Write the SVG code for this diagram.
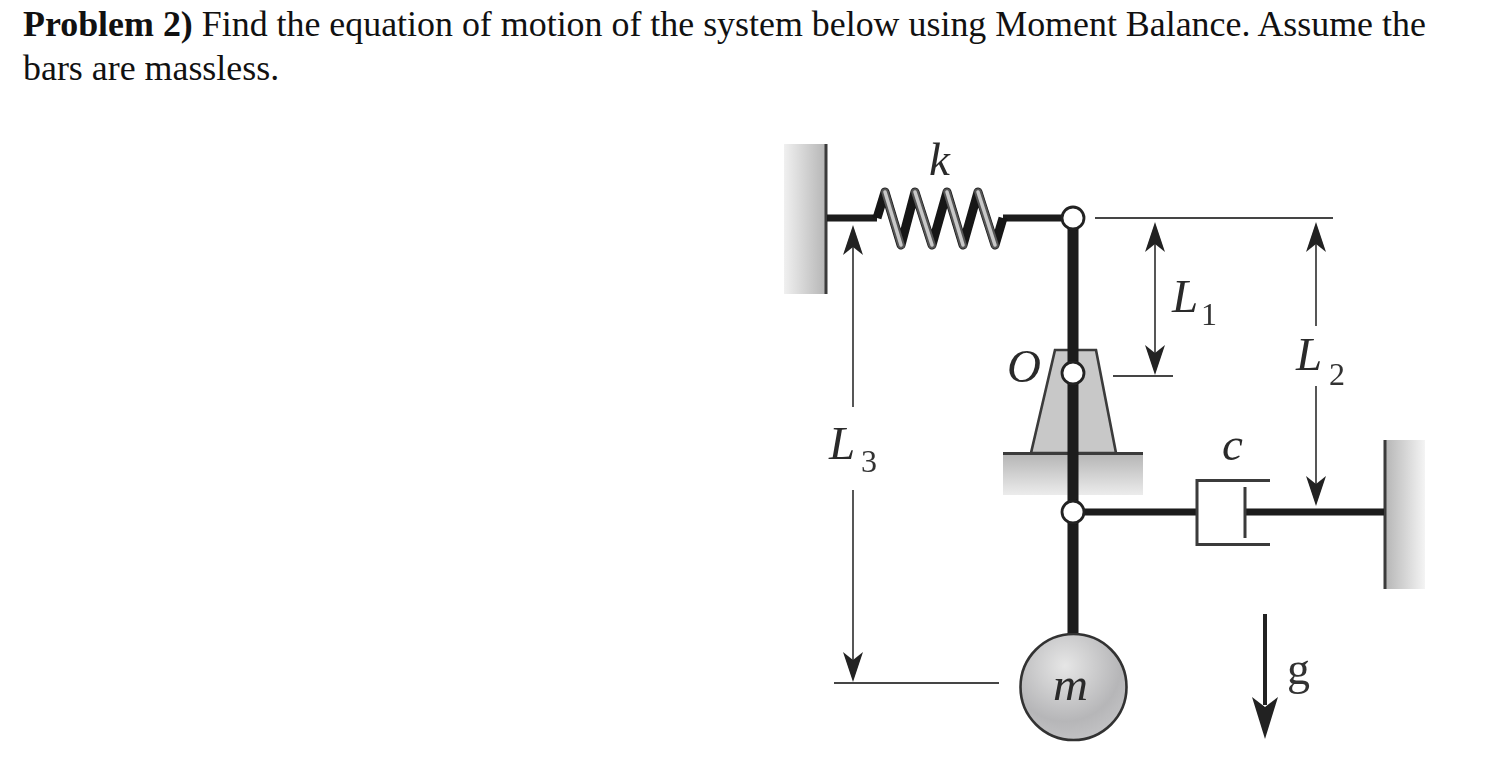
<svg xmlns="http://www.w3.org/2000/svg" width="1486" height="772" viewBox="0 0 1486 772">
<style>
.t{font-family:"Liberation Serif","Times New Roman",serif;font-size:35.9px;fill:#111}
.v{font-family:"Liberation Serif","Times New Roman",serif;font-style:italic;font-size:47px;fill:#2a2a2a}
.s{font-family:"Liberation Serif","Times New Roman",serif;font-size:32px;fill:#333}
.d{stroke:#444;stroke-width:1.8;fill:none}
.w{stroke:#3a3a3a;stroke-width:3;fill:none}
.r{stroke:#1a1a1a;fill:none}
.p{fill:#fff;stroke:#222;stroke-width:2.8}
</style>
<defs>
<linearGradient id="wl" x1="0" x2="1" y1="0" y2="0"><stop offset="0" stop-color="#f0f0f0"/><stop offset="1" stop-color="#b4b4b4"/></linearGradient>
<linearGradient id="wr" x1="0" x2="1" y1="0" y2="0"><stop offset="0" stop-color="#b4b4b4"/><stop offset="1" stop-color="#f4f4f4"/></linearGradient>
<linearGradient id="gr" x1="0" x2="0" y1="0" y2="1"><stop offset="0" stop-color="#b4b4b4"/><stop offset="1" stop-color="#ececec"/></linearGradient>
<radialGradient id="ball" cx="0.42" cy="0.3" r="0.75"><stop offset="0" stop-color="#e6e6e6"/><stop offset="0.7" stop-color="#b6b6b8"/><stop offset="1" stop-color="#c4c4c6"/></radialGradient>
<path id="ad" d="M0 0L-10 -30L0 -22L10 -30Z" fill="#222"/>
<path id="au" d="M0 0L-10 30L0 22L10 30Z" fill="#222"/>
<filter id="soft" x="-5%" y="-5%" width="110%" height="110%"><feGaussianBlur stdDeviation="0.6"/></filter>
</defs>

<g id="title">
<text class="t" x="23" y="36"><tspan font-weight="bold">Problem 2)</tspan> Find the equation of motion of the system below using Moment Balance. Assume the</text>
<text class="t" x="23" y="80">bars are massless.</text>
</g>

<g id="figure" filter="url(#soft)">
<g id="wall-left"><rect x="784" y="144" width="43" height="150" fill="url(#wl)"/><line class="w" x1="826" y1="144" x2="826" y2="294"/></g>
<g id="wall-right"><rect x="1384" y="440" width="41" height="149" fill="url(#wr)"/><line class="w" x1="1385" y1="440" x2="1385" y2="589"/></g>
<g id="support">
<rect x="1003" y="453" width="140" height="42" fill="url(#gr)"/>
<path d="M1055 350H1096L1116 453H1031Z" fill="#c8c8c8" stroke="#3a3a3a" stroke-width="2.6"/>
<line class="w" x1="1003" y1="453.500" x2="1143" y2="453.500"/>
</g>

<g id="connectors">
<path class="r" stroke-width="7" d="M827 218H877"/>
<path class="r" stroke-width="7" d="M1003 218H1066"/>
<path d="M877 218L885 192L901 245L915 192L932 245L947 192L963 245L978 192L995 245L1003 218" fill="none" stroke="#161616" stroke-width="9" stroke-linejoin="round"/>
<path d="M885 192L901 245M915 192L932 245M947 192L963 245M978 192L995 245" fill="none" stroke="#555" stroke-width="7.500" stroke-linecap="round"/>
<path d="M885 192L901 245M915 192L932 245M947 192L963 245M978 192L995 245" fill="none" stroke="#c8c8c8" stroke-width="3.500" stroke-linecap="round"/>
<line class="r" stroke-width="11" x1="1073" y1="218" x2="1073" y2="640"/>
<line class="r" stroke-width="7" x1="1073" y1="512" x2="1197" y2="512"/>
<line class="r" stroke-width="7" x1="1245" y1="512" x2="1384" y2="512"/>
<path class="w" d="M1270 480.500H1197V544.500H1270"/>
<line class="w" x1="1245" y1="487" x2="1245" y2="538"/>
<g id="dimensions">
<line class="d" x1="1095" y1="218" x2="1333" y2="218"/>
<line class="d" x1="1113" y1="376" x2="1173" y2="376"/>
<line class="d" x1="834" y1="683" x2="999" y2="683"/>
<line class="d" x1="1155" y1="235" x2="1155" y2="360"/>
<use href="#au" x="1155" y="222"/><use href="#ad" x="1155" y="375"/>
<line class="d" x1="1316" y1="235" x2="1316" y2="326"/>
<use href="#au" x="1316" y="222"/>
<line class="d" x1="1316" y1="386" x2="1316" y2="490"/>
<use href="#ad" x="1316" y="506"/>
<line class="d" x1="853" y1="240" x2="853" y2="407"/>
<use href="#au" x="853" y="225"/>
<line class="d" x1="853" y1="490" x2="853" y2="665"/>
<use href="#ad" x="853" y="682"/>
</g>
<g id="gravity">
<line stroke="#222" stroke-width="4" x1="1265" y1="614" x2="1265" y2="705"/>
<path d="M1252 697L1265 707L1278 697L1265 739Z" fill="#222"/>
</g>
</g>

<g id="pin-top"><circle class="p" cx="1073" cy="218" r="11"/></g>
<g id="pin-pivot"><circle class="p" cx="1073" cy="373" r="11"/></g>
<g id="pin-damper"><circle class="p" cx="1073" cy="512" r="11"/></g>
<g id="mass"><circle cx="1073.500" cy="687" r="53" fill="url(#ball)" stroke="#333" stroke-width="2.600"/><text class="v" x="1053" y="700" textLength="35" lengthAdjust="spacingAndGlyphs">m</text></g>

<g id="labels">
<text class="v" x="929" y="175">k</text>
<text class="v" x="1007" y="382">O</text>
<text class="v" x="1222" y="460" font-size="40">c</text>
<text class="v" x="1172" y="312">L</text><text class="s" x="1201" y="325">1</text>
<text class="v" x="1296" y="370">L</text><text class="s" x="1329" y="385">2</text>
<text class="v" x="829" y="459">L</text><text class="s" x="861" y="472">3</text>
<text class="s" x="1287" y="684" font-size="46" style="font-size:46px">g</text>
</g>
</g>
</svg>
